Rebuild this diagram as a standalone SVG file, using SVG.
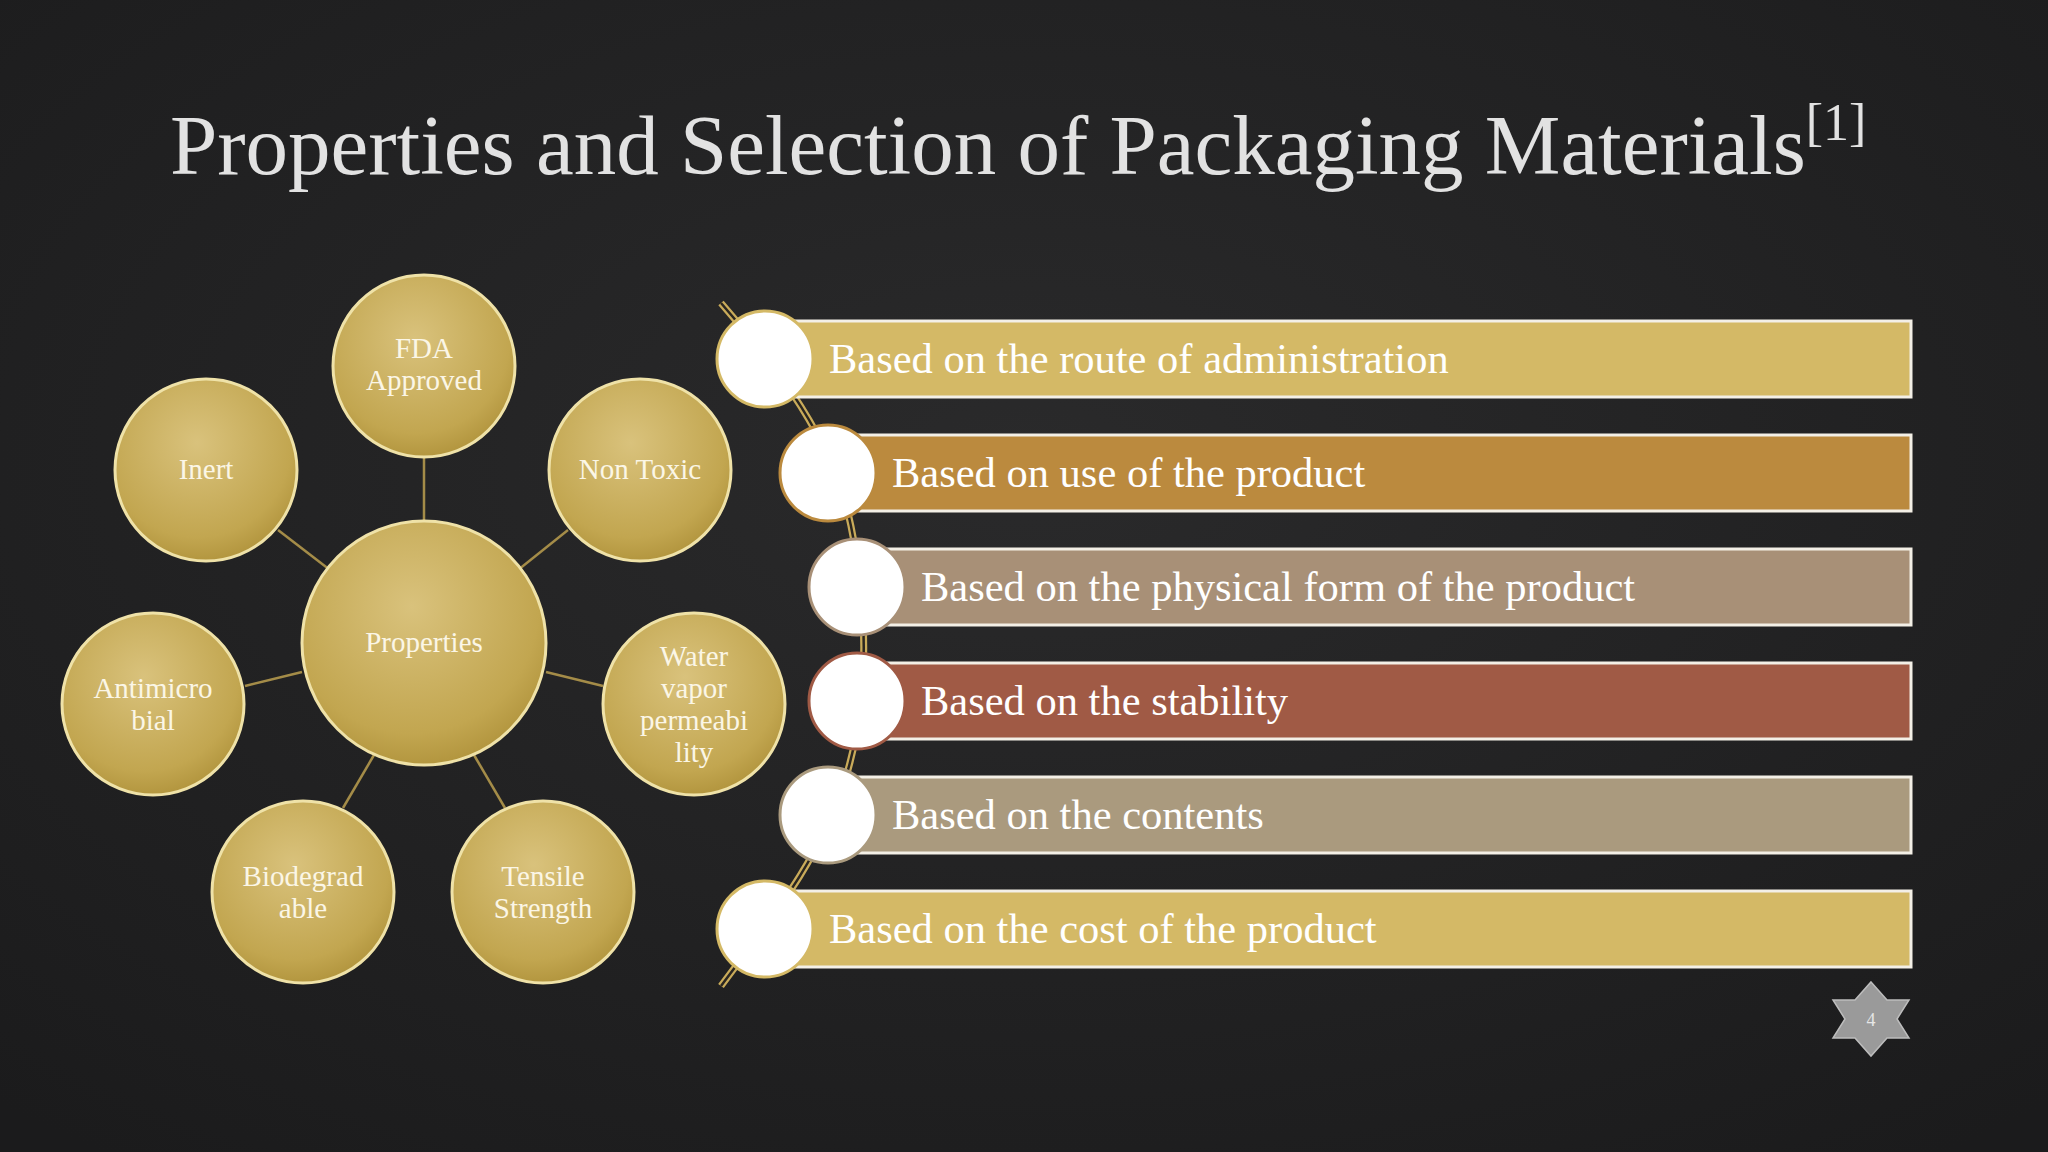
<svg xmlns="http://www.w3.org/2000/svg" width="2048" height="1152" viewBox="0 0 2048 1152">
<defs>
<radialGradient id="bg" cx="50%" cy="40%" r="75%"><stop offset="0" stop-color="#2a2a2b"/><stop offset="1" stop-color="#1b1b1c"/></radialGradient>
<radialGradient id="gold" cx="45%" cy="35%" r="65%"><stop offset="0" stop-color="#d9c27c"/><stop offset="0.8" stop-color="#c2a650"/><stop offset="1" stop-color="#b3963f"/></radialGradient>
<style>
.n circle{fill:url(#gold);stroke:#efe2a8;stroke-width:3}
.n text{font-family:"Liberation Serif",serif;font-size:29px;fill:#fbf6e6;text-anchor:middle}
.spoke{stroke:#a48c48;stroke-width:2.5}
.bar rect{stroke:#f3efe6;stroke-width:3}
.bar circle{fill:#fff;stroke-width:3}
.bar text{font-family:"Liberation Serif",serif;font-size:42.5px;fill:#fff}
</style>
</defs>
<rect width="2048" height="1152" fill="url(#bg)"/>
<text x="170" y="174" font-family="Liberation Serif,serif" font-size="85" fill="#e2e2e2">Properties and Selection of Packaging Materials<tspan font-size="52" dy="-34">[1]</tspan></text>
<g id="connectors">
<line class="spoke" x1="424" y1="520" x2="424" y2="458"/>
<line class="spoke" x1="330" y1="570" x2="278" y2="530"/>
<line class="spoke" x1="518" y1="570" x2="568" y2="530"/>
<line class="spoke" x1="302" y1="672" x2="245" y2="686"/>
<line class="spoke" x1="546" y1="672" x2="603" y2="686"/>
<line class="spoke" x1="374" y1="755" x2="343" y2="808"/>
<line class="spoke" x1="474" y1="755" x2="505" y2="808"/>
<path d="M721,303 C770,360 820,420 845,500 C870,600 870,700 845,780 C820,860 770,920 721,986" fill="none" stroke="#c9ab5a" stroke-width="7"/>
<path d="M721,303 C770,360 820,420 845,500 C870,600 870,700 845,780 C820,860 770,920 721,986" fill="none" stroke="#2a2620" stroke-width="2.5"/>
</g>
<g id="n-properties" class="n"><circle cx="424" cy="643" r="122"/><text x="424" y="652">Properties</text></g>
<g id="n-fda" class="n"><circle cx="424" cy="366" r="91"/><text x="424" y="358">FDA</text><text x="424" y="390">Approved</text></g>
<g id="n-inert" class="n"><circle cx="206" cy="470" r="91"/><text x="206" y="479">Inert</text></g>
<g id="n-nontoxic" class="n"><circle cx="640" cy="470" r="91"/><text x="640" y="479">Non Toxic</text></g>
<g id="n-antimicrobial" class="n"><circle cx="153" cy="704" r="91"/><text x="153" y="698">Antimicro</text><text x="153" y="730">bial</text></g>
<g id="n-water" class="n"><circle cx="694" cy="704" r="91"/><text x="694" y="666">Water</text><text x="694" y="698">vapor</text><text x="694" y="730">permeabi</text><text x="694" y="762">lity</text></g>
<g id="n-biodegradable" class="n"><circle cx="303" cy="892" r="91"/><text x="303" y="886">Biodegrad</text><text x="303" y="918">able</text></g>
<g id="n-tensile" class="n"><circle cx="543" cy="892" r="91"/><text x="543" y="886">Tensile</text><text x="543" y="918">Strength</text></g>
<g id="b1" class="bar"><rect x="784" y="321" width="1127" height="76" fill="#d4b966"/><circle cx="765" cy="359" r="48" stroke="#d4b966"/><text x="829" y="373">Based on the route of administration</text></g>
<g id="b2" class="bar"><rect x="846" y="435" width="1065" height="76" fill="#bb8a3e"/><circle cx="828" cy="473" r="48" stroke="#bb8a3e"/><text x="892" y="487">Based on use of the product</text></g>
<g id="b3" class="bar"><rect x="875" y="549" width="1036" height="76" fill="#a89077"/><circle cx="857" cy="587" r="48" stroke="#a89077"/><text x="921" y="601">Based on the physical form of the product</text></g>
<g id="b4" class="bar"><rect x="875" y="663" width="1036" height="76" fill="#a05a45"/><circle cx="857" cy="701" r="48" stroke="#a05a45"/><text x="921" y="715">Based on the stability</text></g>
<g id="b5" class="bar"><rect x="846" y="777" width="1065" height="76" fill="#aa9a7e"/><circle cx="828" cy="815" r="48" stroke="#aa9a7e"/><text x="892" y="829">Based on the contents</text></g>
<g id="b6" class="bar"><rect x="784" y="891" width="1127" height="76" fill="#d4b966"/><circle cx="765" cy="929" r="48" stroke="#d4b966"/><text x="829" y="943">Based on the cost of the product</text></g>
<g id="star">
<polygon points="1871,982 1887,1000 1909,1000 1897,1019 1909,1038 1887,1038 1871,1056 1855,1038 1833,1038 1845,1019 1833,1000 1855,1000" fill="#9a9a9a" stroke="#bdbdbd" stroke-width="1.5"/>
<text x="1871" y="1026" font-family="Liberation Serif,serif" font-size="18" fill="#e6e6e6" text-anchor="middle">4</text>
</g>
</svg>
